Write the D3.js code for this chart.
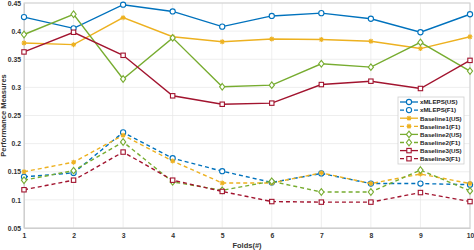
<!DOCTYPE html>
<html>
<head>
<meta charset="utf-8">
<script src="https://cdn.jsdelivr.net/npm/d3@7"></script>
<style>
  body { margin: 0; background: #fff; }
  svg { display: block; font-family: "Liberation Sans", Arial, sans-serif; }
</style>
</head>
<body>
<div id="graph"></div>
<script>
const folds = [1, 2, 3, 4, 5, 6, 7, 8, 9, 10];
const yTicks = [0.05, 0.1, 0.15, 0.2, 0.25, 0.3, 0.35, 0.4, 0.45];

const xmlepsUS = [0.425, 0.405, 0.447, 0.435, 0.408, 0.427, 0.432, 0.422, 0.398, 0.430];
const xmlepsF1 = [0.141, 0.148, 0.220, 0.174, 0.151, 0.131, 0.147, 0.129, 0.129, 0.127];
const base1US = [0.379, 0.376, 0.424, 0.390, 0.381, 0.386, 0.385, 0.382, 0.369, 0.390];
const base1F1 = [0.150, 0.167, 0.215, 0.169, 0.130, 0.130, 0.148, 0.129, 0.146, 0.129];
const base2US = [0.394, 0.430, 0.315, 0.388, 0.301, 0.304, 0.342, 0.336, 0.380, 0.329];
const base2F1 = [0.135, 0.152, 0.203, 0.132, 0.117, 0.133, 0.114, 0.114, 0.153, 0.116];
const base3US = [0.363, 0.398, 0.357, 0.285, 0.270, 0.272, 0.305, 0.311, 0.298, 0.348];
const base3F1 = [0.118, 0.135, 0.185, 0.135, 0.115, 0.097, 0.096, 0.096, 0.113, 0.097];

const series = [
  { name: "xMLEPS(US)", values: xmlepsUS, color: "#0072BD", marker: "circle", dash: null },
  { name: "xMLEPS(F1)", values: xmlepsF1, color: "#0072BD", marker: "circle", dash: "4,3" },
  { name: "Baseline1(US)", values: base1US, color: "#EDB120", marker: "star", dash: null },
  { name: "Baseline1(F1)", values: base1F1, color: "#EDB120", marker: "star", dash: "4,3" },
  { name: "Baseline2(US)", values: base2US, color: "#77AC30", marker: "diamond", dash: null },
  { name: "Baseline2(F1)", values: base2F1, color: "#77AC30", marker: "diamond", dash: "4,3" },
  { name: "Baseline3(US)", values: base3US, color: "#A2142F", marker: "square", dash: null },
  { name: "Baseline3(F1)", values: base3F1, color: "#A2142F", marker: "square", dash: "4,3" },
];

const W = 474, H = 250;
const margin = { top: 3, right: 4, bottom: 22, left: 24 };
const width = W - margin.left - margin.right;
const height = H - margin.top - margin.bottom;

const svg = d3.select("#graph").append("svg")
  .attr("width", W).attr("height", H)
  .append("g")
  .attr("transform", `translate(${margin.left},${margin.top})`);

const x = d3.scaleLinear().domain([1, 10]).range([0, width]);
const y = d3.scaleLinear().domain([0.05, 0.45]).range([height, 0]);

// grid
svg.append("g").selectAll("line").data(folds).enter().append("line")
  .attr("x1", d => x(d)).attr("x2", d => x(d))
  .attr("y1", 0).attr("y2", height)
  .attr("stroke", "#e6e6e6").attr("stroke-width", 0.7);
svg.append("g").selectAll("line").data(yTicks).enter().append("line")
  .attr("x1", 0).attr("x2", width)
  .attr("y1", d => y(d)).attr("y2", d => y(d))
  .attr("stroke", "#e6e6e6").attr("stroke-width", 0.7);

// axes
const xAxis = svg.append("g")
  .attr("transform", `translate(0,${height})`)
  .call(d3.axisBottom(x).tickValues(folds).tickFormat(d3.format("d")).tickSize(0).tickPadding(5));
const yAxis = svg.append("g")
  .call(d3.axisLeft(y).tickValues(yTicks).tickFormat(d => d3.format("")(+d.toFixed(2))).tickSize(0).tickPadding(3));
[xAxis, yAxis].forEach(a => {
  a.select(".domain").attr("stroke", "#cfcfcf").attr("stroke-width", 1);
  a.selectAll("text").attr("font-size", 6.8).attr("font-weight", "bold").attr("fill", "#333");
});
svg.append("rect").attr("x", 0).attr("y", 0).attr("width", width).attr("height", height)
  .attr("fill", "none").attr("stroke", "#cfcfcf").attr("stroke-width", 1);

svg.append("text")
  .attr("x", width / 2).attr("y", height + 20)
  .attr("text-anchor", "middle").attr("font-size", 7.5).attr("font-weight", "bold").attr("fill", "#333")
  .text("Folds(#)");
svg.append("text")
  .attr("transform", `translate(${-18},${height / 2}) rotate(-90)`)
  .attr("text-anchor", "middle").attr("font-size", 7.5).attr("font-weight", "bold").attr("fill", "#333")
  .text("Performance Measures");

function drawMarker(g, type, color) {
  if (type === "circle") {
    g.append("circle").attr("r", 2.6).attr("fill", "#fff").attr("stroke", color).attr("stroke-width", 1.1);
  } else if (type === "diamond") {
    g.append("path").attr("d", "M0,-3.3L2.6,0L0,3.3L-2.6,0Z").attr("fill", "#fff").attr("stroke", color).attr("stroke-width", 1.1);
  } else if (type === "square") {
    g.append("rect").attr("x", -2.2).attr("y", -2.2).attr("width", 4.4).attr("height", 4.4)
      .attr("fill", "#fff").attr("stroke", color).attr("stroke-width", 1.1);
  } else {
    g.append("path").attr("d", "M-2.5,0H2.5M0,-2.5V2.5M-1.8,-1.8L1.8,1.8M-1.8,1.8L1.8,-1.8")
      .attr("stroke", color).attr("stroke-width", 1.1);
  }
}

const line = d3.line().x((d, i) => x(folds[i])).y(d => y(d));

series.forEach(s => {
  svg.append("path").datum(s.values)
    .attr("d", line)
    .attr("fill", "none").attr("stroke", s.color).attr("stroke-width", 1.4)
    .attr("stroke-dasharray", s.dash);
  svg.append("g").selectAll("g").data(s.values).enter().append("g")
    .attr("transform", (d, i) => `translate(${x(folds[i])},${y(d)})`)
    .each(function () { drawMarker(d3.select(this), s.marker, s.color); });
});

// legend
const lg = svg.append("g").attr("transform", `translate(${374},${94})`);
lg.append("rect").attr("x", 0).attr("y", 0).attr("width", 66).attr("height", 67)
  .attr("fill", "#fff").attr("stroke", "#cfcfcf").attr("stroke-width", 0.8);
series.forEach((s, i) => {
  const row = lg.append("g").attr("transform", `translate(0,${5 + i * 8.1})`);
  row.append("line").attr("x1", 2).attr("x2", 20).attr("y1", 0).attr("y2", 0)
    .attr("stroke", s.color).attr("stroke-width", 1.3).attr("stroke-dasharray", s.dash);
  drawMarker(row.append("g").attr("transform", "translate(11,0)"), s.marker, s.color);
  row.append("text").attr("x", 22).attr("y", 2.3)
    .attr("font-size", 6.2).attr("font-weight", "bold").attr("fill", "#222").text(s.name);
});
</script>
</body>
</html>
